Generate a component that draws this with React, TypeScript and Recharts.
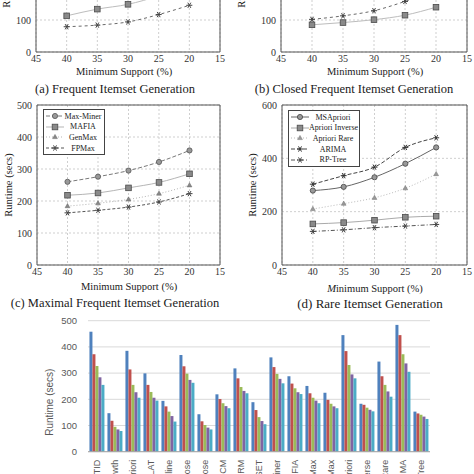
import React from "react";
import { Bar, BarChart, CartesianGrid, Line, LineChart, ReferenceArea, XAxis, YAxis } from "recharts";

const serif = '"Liberation Serif", "Times New Roman", serif';
const sans = '"Liberation Sans", Arial, sans-serif';

// minimum support levels (x axis of panels a-d)
const supports = [40, 35, 30, 25, 20];
const supportTicks = [45, 40, 35, 30, 25, 20, 15];

// (a) frequent itemset generation
const freqSquares = [113, 134, 149, 176, 215];
const freqStars = [79, 84, 94, 117, 146];

// (b) closed frequent itemset generation
const closedStars = [102, 113, 129, 158, 192];
const closedSquares = [85, 92, 101, 115, 140];

// (c) maximal frequent itemset generation
const maxMiner = [260, 276, 295, 322, 358];
const mafia = [218, 225, 241, 258, 285];
const genMax = [184, 193, 205, 223, 249];
const fpMax = [163, 171, 181, 197, 223];

// (d) rare itemset generation
const msApriori = [279, 293, 329, 380, 441];
const aprioriInverse = [154, 159, 168, 179, 183];
const aprioriRare = [210, 230, 252, 288, 341];
const arima = [303, 335, 367, 441, 477];
const rpTree = [126, 132, 140, 146, 152];

// bottom bar chart
const algorithms = [
  "AprioriTID", "FP-Growth", "Apriori", "ECLAT", "Pipeline",
  "Close", "A-Close", "LCM", "CHARM", "CLOSET",
  "Max-Miner", "MAFIA", "GenMax", "FPMax",
  "MSApriori", "Apriori Inverse", "Apriori Rare", "ARIMA", "RP-Tree"
];
const run1 = [458, 147, 385, 299, 194, 369, 143, 219, 318, 189, 360, 288, 251, 225, 445, 183, 344, 484, 153];
const run2 = [372, 118, 314, 255, 173, 326, 116, 201, 280, 159, 323, 260, 223, 198, 384, 179, 288, 445, 146];
const run3 = [327, 95, 255, 228, 153, 298, 102, 185, 247, 132, 297, 242, 206, 183, 331, 168, 255, 372, 141];
const run4 = [284, 85, 227, 206, 136, 274, 92, 174, 232, 117, 278, 227, 195, 173, 295, 160, 230, 337, 134];
const run5 = [255, 79, 206, 195, 115, 263, 85, 166, 223, 105, 261, 220, 185, 166, 280, 154, 210, 305, 125];
const runTicks = [0, 100, 200, 300, 400, 500];

type Shape = "circle" | "square" | "triangle" | "star";
type SeriesStyle = {
  key: string;
  name: string;
  stroke: string;
  dash?: string;
  shape: Shape;
  fill: string;
  mark: string;
};

function buildRows(columns: Record<string, number[]>) {
  return supports.map((support, i) => {
    const row: Record<string, number> = { support };
    for (const k of Object.keys(columns)) row[k] = columns[k][i];
    return row;
  });
}

function Marker({ shape, cx, cy, fill, mark }: { shape: Shape; cx: number; cy: number; fill: string; mark: string }) {
  if (cx == null || cy == null) return null;
  if (shape === "circle") return <circle cx={cx} cy={cy} r={2.6} fill={fill} stroke={mark} strokeWidth={0.8} />;
  if (shape === "square") return <rect x={cx - 2.8} y={cy - 2.8} width={5.6} height={5.6} fill={fill} stroke={mark} strokeWidth={0.8} />;
  if (shape === "triangle")
    return <path d={`M${cx},${cy - 2.6} L${cx + 2.4},${cy + 1.6} L${cx - 2.4},${cy + 1.6} Z`} fill={fill} stroke={mark} strokeWidth={0.5} />;
  const r = 3;
  return (
    <g stroke={mark} strokeWidth={1}>
      <line x1={cx - r} y1={cy} x2={cx + r} y2={cy} />
      <line x1={cx - r / 2} y1={cy - r * 0.87} x2={cx + r / 2} y2={cy + r * 0.87} />
      <line x1={cx + r / 2} y1={cy - r * 0.87} x2={cx - r / 2} y2={cy + r * 0.87} />
    </g>
  );
}

const freqSeries: SeriesStyle[] = [
  { key: "squares", name: "Apriori", stroke: "#bdbdbd", shape: "square", fill: "#8a8a8a", mark: "#4a4a4a" },
  { key: "stars", name: "FP-Growth", stroke: "#6a6a6a", dash: "3 3", shape: "star", fill: "#555", mark: "#444" }
];

const closedSeries: SeriesStyle[] = [
  { key: "stars", name: "CHARM", stroke: "#6a6a6a", dash: "3 3", shape: "star", fill: "#555", mark: "#444" },
  { key: "squares", name: "Close", stroke: "#bdbdbd", shape: "square", fill: "#8a8a8a", mark: "#4a4a4a" }
];

const maximalSeries: SeriesStyle[] = [
  { key: "maxMiner", name: "Max-Miner", stroke: "#7a7a7a", dash: "4 2", shape: "circle", fill: "#999", mark: "#555" },
  { key: "mafia", name: "MAFIA", stroke: "#b5b5b5", shape: "square", fill: "#8a8a8a", mark: "#4a4a4a" },
  { key: "genMax", name: "GenMax", stroke: "#b5b5b5", dash: "1 2", shape: "triangle", fill: "#888", mark: "#666" },
  { key: "fpMax", name: "FPMax", stroke: "#555", dash: "3 2", shape: "star", fill: "#444", mark: "#444" }
];

const rareSeries: SeriesStyle[] = [
  { key: "msApriori", name: "MSApriori", stroke: "#666", shape: "circle", fill: "#999", mark: "#444" },
  { key: "aprioriInverse", name: "Apriori Inverse", stroke: "#aaa", shape: "square", fill: "#8a8a8a", mark: "#4a4a4a" },
  { key: "aprioriRare", name: "Apriori Rare", stroke: "#bbb", dash: "1 2", shape: "triangle", fill: "#999", mark: "#777" },
  { key: "arima", name: "ARIMA", stroke: "#444", dash: "4 2", shape: "star", fill: "#333", mark: "#333" },
  { key: "rpTree", name: "RP-Tree", stroke: "#555", dash: "4 2 1 2", shape: "star", fill: "#333", mark: "#444" }
];

function LinePanel(props: {
  left: number;
  top: number;
  rows: Record<string, number>[];
  series: SeriesStyle[];
  yMax: number;
  yTicks: number[];
  yAxisWidth: number;
  marginRight: number;
  yLabelDx: number;
  yLabelDy?: number;
}) {
  const { left, top, rows, series, yMax, yTicks, yAxisWidth, marginRight, yLabelDx, yLabelDy = 0 } = props;
  const tick = { fontSize: 10, fill: "#333", fontFamily: serif };
  return (
    <div style={{ position: "absolute", left, top }}>
      <LineChart width={237} height={220} data={rows} margin={{ top: 15, right: marginRight, bottom: 0, left: 0 }}>
        <CartesianGrid stroke="#cfcfcf" strokeDasharray="2 2" />
        <XAxis
          dataKey="support"
          type="number"
          domain={[15, 45]}
          reversed
          ticks={supportTicks}
          interval={0}
          height={45}
          axisLine={false}
          tickLine={false}
          tickSize={0}
          tickMargin={3}
          tick={tick}
        />
        <YAxis
          type="number"
          domain={[0, yMax]}
          ticks={yTicks}
          width={yAxisWidth}
          axisLine={false}
          tickLine={false}
          tickSize={0}
          tickMargin={5}
          tick={tick}
          label={{
            value: "Runtime (secs)",
            angle: -90,
            position: "center",
            dx: yLabelDx,
            dy: yLabelDy,
            fontSize: 10.5,
            fill: "#222",
            fontFamily: serif
          }}
        />
        <ReferenceArea x1={15} x2={45} y1={0} y2={yMax} fill="none" stroke="#555" strokeWidth={1} ifOverflow="visible" />
        {series.map((s) => (
          <Line
            key={s.key}
            dataKey={s.key}
            name={s.name}
            type="monotone"
            stroke={s.stroke}
            strokeWidth={1}
            strokeDasharray={s.dash}
            isAnimationActive={false}
            activeDot={false}
            dot={(p: any) => (
              <Marker key={`${s.key}-${p.index}`} shape={s.shape} cx={p.cx} cy={p.cy} fill={s.fill} mark={s.mark} />
            )}
          />
        ))}
      </LineChart>
    </div>
  );
}

function LegendBox({ left, top, width, series }: { left: number; top: number; width: number; series: SeriesStyle[] }) {
  return (
    <div
      style={{
        position: "absolute",
        left,
        top,
        width,
        border: "1px solid #444",
        background: "#fff",
        padding: "1px 2px",
        boxSizing: "border-box"
      }}
    >
      {series.map((s) => (
        <div key={s.key} style={{ display: "flex", alignItems: "center", height: 10.6 }}>
          <svg width={18} height={8} style={{ flex: "none" }}>
            <line x1={0} y1={4} x2={18} y2={4} stroke={s.stroke} strokeWidth={1} strokeDasharray={s.dash} />
            <Marker shape={s.shape} cx={9} cy={4} fill={s.fill} mark={s.mark} />
          </svg>
          <span style={{ flex: 1, textAlign: "center", fontSize: 8, fontFamily: serif, color: "#222", whiteSpace: "nowrap" }}>
            {s.name}
          </span>
        </div>
      ))}
    </div>
  );
}

function Caption({ x, y, size, children }: { x: number; y: number; size: number; children: React.ReactNode }) {
  return (
    <div
      style={{
        position: "absolute",
        left: x,
        top: y,
        transform: "translate(-50%, -50%)",
        whiteSpace: "nowrap",
        fontSize: size,
        fontFamily: serif,
        color: "#1a1a1a",
        lineHeight: 1
      }}
    >
      {children}
    </div>
  );
}

function CategoryTick({ x, y, payload }: any) {
  return (
    <g transform={`translate(${x},${y})`}>
      <text transform="rotate(-90)" textAnchor="end" dy="0.35em" fontSize={9} fill="#595959" fontFamily={sans}>
        {payload.value}
      </text>
    </g>
  );
}

const runColors = ["#4f81bd", "#c0504d", "#9bbb59", "#8064a2", "#4bacc6"];
const runSeries = [run1, run2, run3, run4, run5];

function RuntimeBars() {
  const rows = algorithms.map((name, i) => {
    const row: Record<string, string | number> = { name };
    runSeries.forEach((values, j) => {
      row[`run${j + 1}`] = values[i];
    });
    return row;
  });
  return (
    <div style={{ position: "absolute", left: 0, top: 305 }}>
      <BarChart
        width={474}
        height={200}
        data={rows}
        margin={{ top: 15.7, right: 44, bottom: 0, left: 0 }}
        barCategoryGap="8%"
        barGap={0}
      >
        <CartesianGrid vertical={false} stroke="#d9d9d9" />
        <XAxis
          dataKey="name"
          interval={0}
          height={53.3}
          tickLine={false}
          axisLine={{ stroke: "#a6a6a6" }}
          tick={<CategoryTick />}
        />
        <YAxis
          domain={[0, 500]}
          ticks={runTicks}
          width={88}
          axisLine={false}
          tickLine={false}
          tickSize={0}
          tickMargin={11}
          tick={{ fontSize: 9.5, fill: "#595959", fontFamily: sans }}
          label={{ value: "Runtime (secs)", angle: -90, position: "center", dx: 5, dy: 16, fontSize: 10, fill: "#595959", fontFamily: sans }}
        />
        {runColors.map((color, j) => (
          <Bar key={j} dataKey={`run${j + 1}`} fill={color} isAnimationActive={false} />
        ))}
      </BarChart>
    </div>
  );
}

export default function App() {
  const fiveHundred = [0, 100, 200, 300, 400, 500];
  return (
    <div
      style={{
        position: "fixed",
        left: 0,
        top: 0,
        width: 474,
        height: 474,
        overflow: "hidden",
        background: "#fff"
      }}
    >
      <LinePanel
        left={0}
        top={-122.7}
        rows={buildRows({ squares: freqSquares, stars: freqStars })}
        series={freqSeries}
        yMax={500}
        yTicks={fiveHundred}
        yAxisWidth={36}
        marginRight={17}
        yLabelDx={-12}
        yLabelDy={4}
      />
      <LinePanel
        left={237}
        top={-122.7}
        rows={buildRows({ stars: closedStars, squares: closedSquares })}
        series={closedSeries}
        yMax={500}
        yTicks={fiveHundred}
        yAxisWidth={44}
        marginRight={7}
        yLabelDx={-18}
        yLabelDy={4}
      />
      <LinePanel
        left={0}
        top={90}
        rows={buildRows({ maxMiner, mafia, genMax, fpMax })}
        series={maximalSeries}
        yMax={500}
        yTicks={fiveHundred}
        yAxisWidth={37}
        marginRight={17}
        yLabelDx={-10.5}
      />
      <LinePanel
        left={237}
        top={90}
        rows={buildRows({ msApriori, aprioriInverse, aprioriRare, arima, rpTree })}
        series={rareSeries}
        yMax={600}
        yTicks={[0, 200, 400, 600]}
        yAxisWidth={45}
        marginRight={7}
        yLabelDx={-7.5}
      />
      <LegendBox left={43} top={109} width={62} series={maximalSeries} />
      <LegendBox left={288} top={110} width={72} series={rareSeries} />

      <Caption x={124} y={72} size={10.5}>Minimum Support (%)</Caption>
      <Caption x={375} y={72} size={10.5}>Minimum Support (%)</Caption>
      <Caption x={129} y={287} size={10.5}>Minimum Support (%)</Caption>
      <Caption x={375} y={289} size={10.5}>
        <i>M</i>inimum Support (%)
      </Caption>

      <Caption x={115} y={89} size={12.5}>(a) Frequent Itemset Generation</Caption>
      <Caption x={354} y={89} size={12.5}>(b) Closed Frequent Itemset Generation</Caption>
      <Caption x={115} y={303} size={12.5}>(c) Maximal Frequent Itemset Generation</Caption>
      <Caption x={370} y={303} size={13}>(d) Rare Itemset Generation</Caption>

      <RuntimeBars />
    </div>
  );
}
